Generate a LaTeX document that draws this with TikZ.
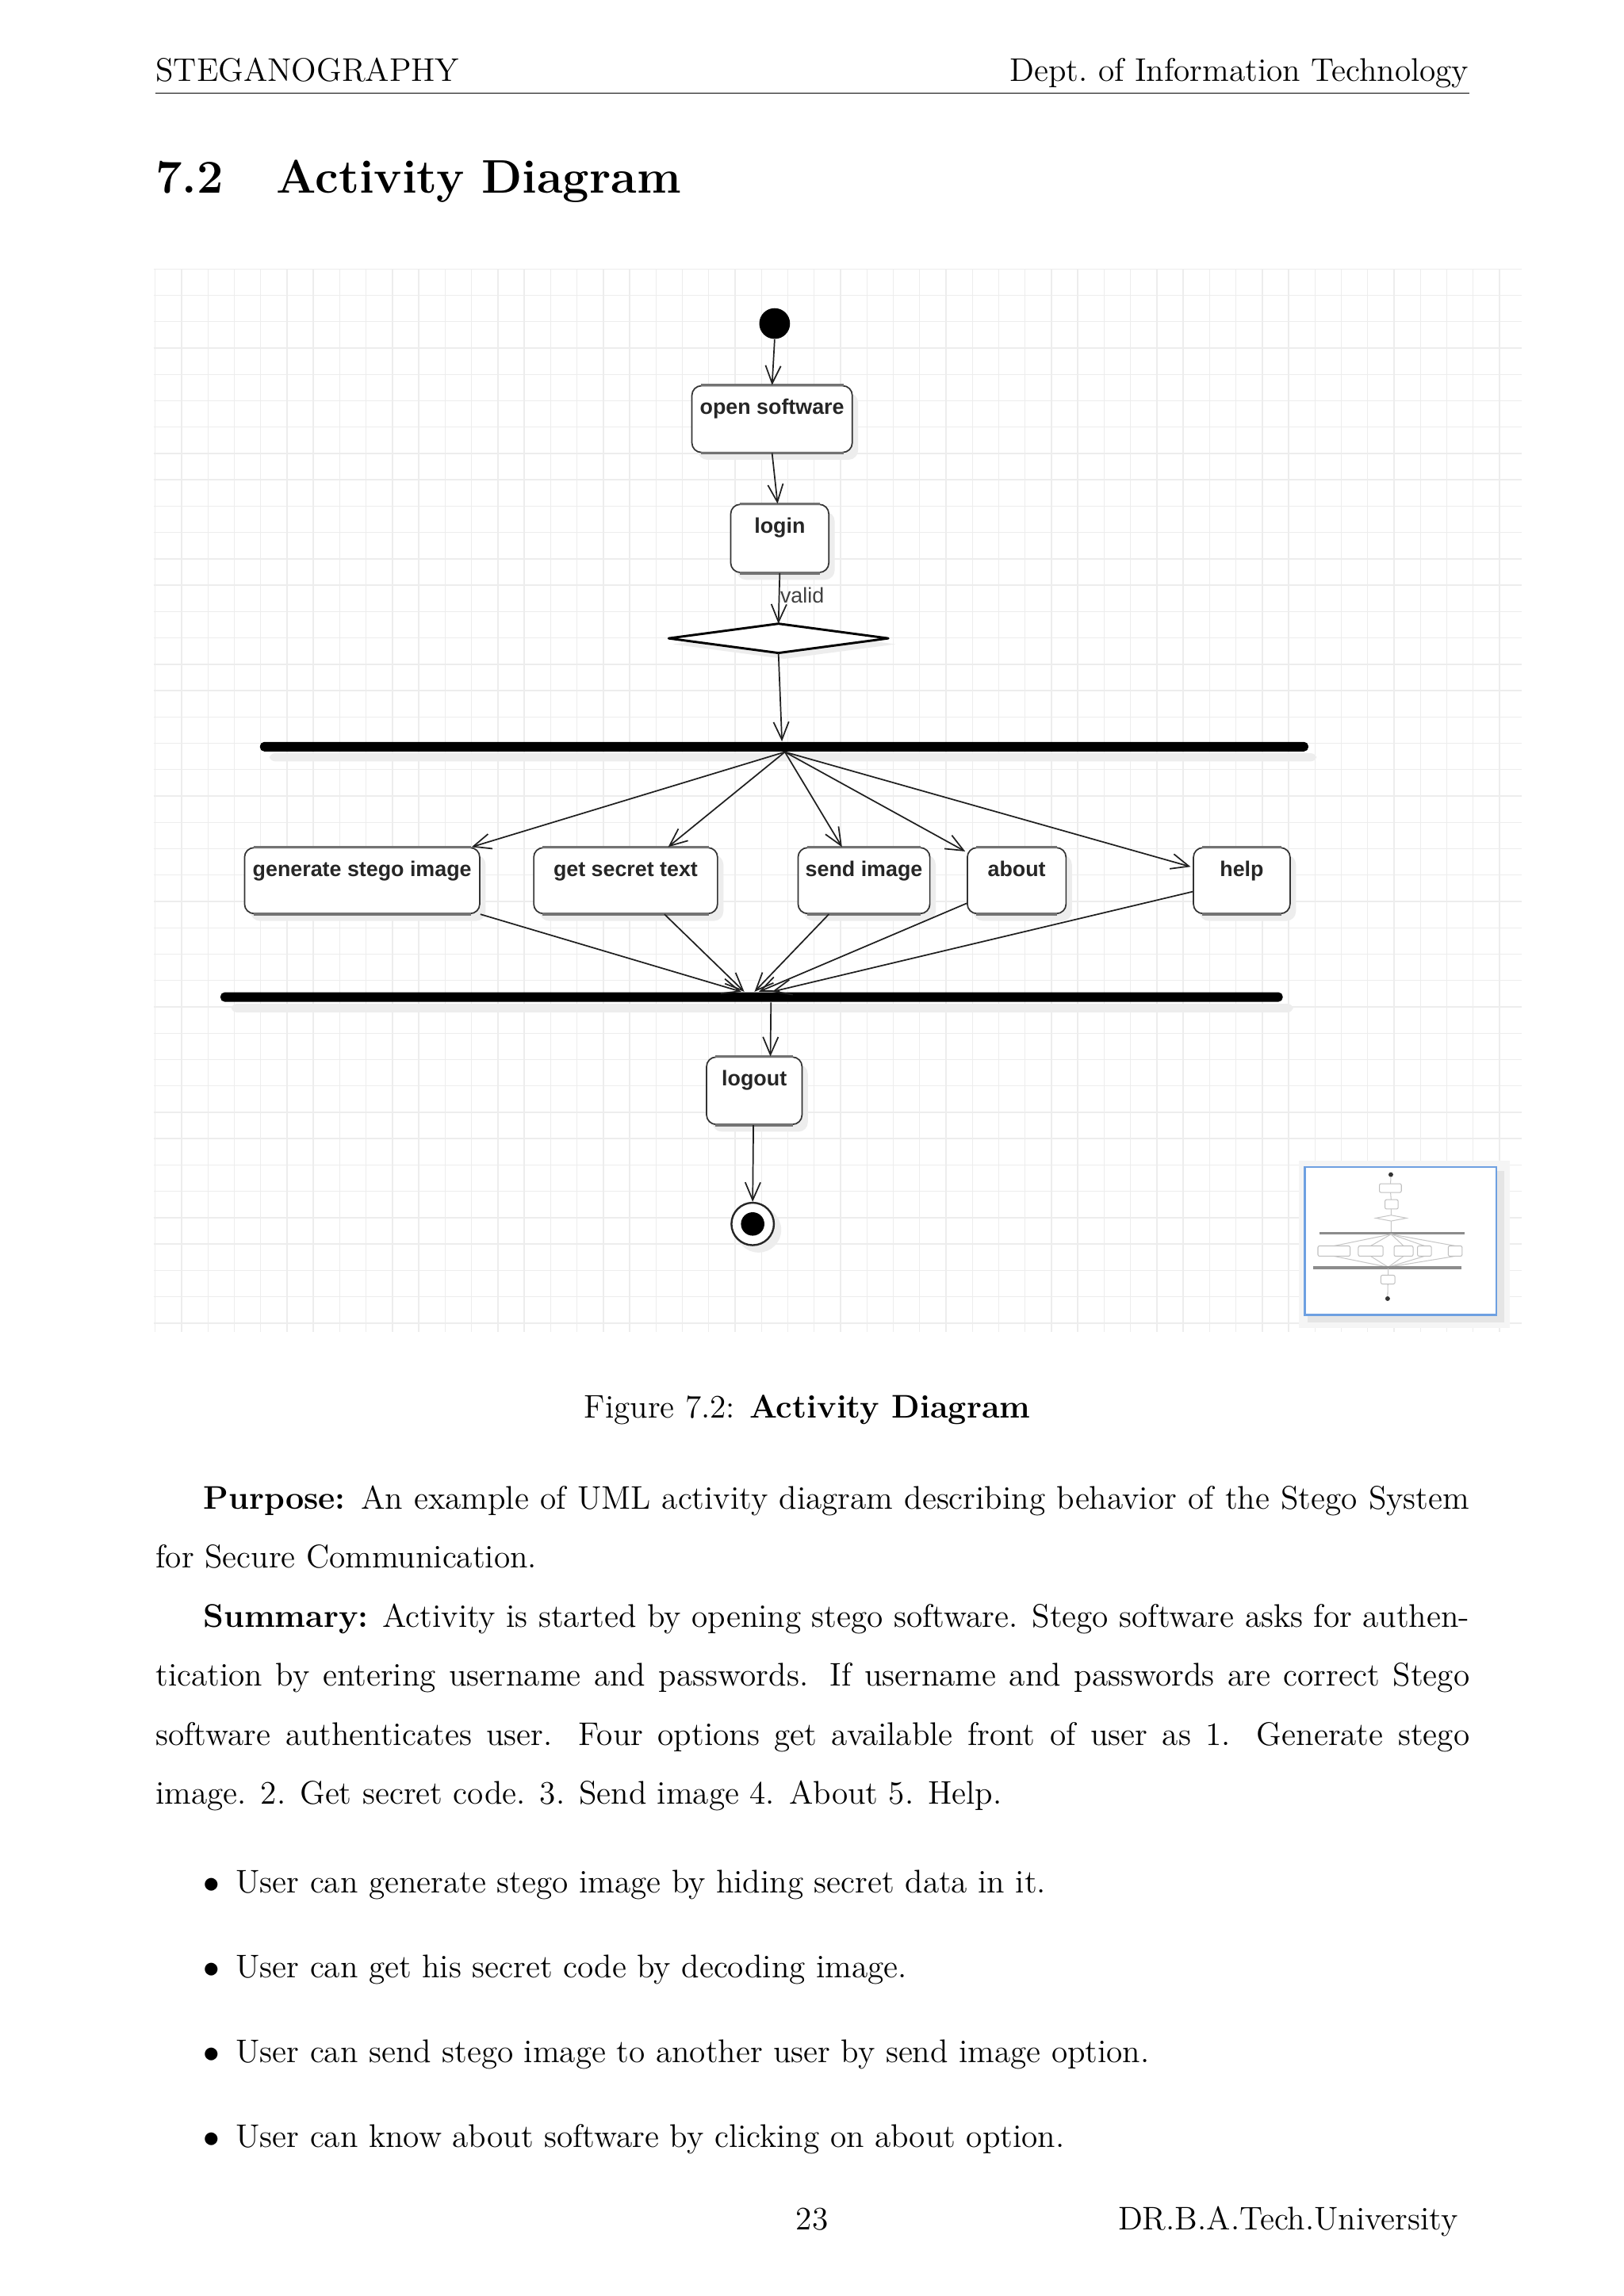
\documentclass[tikz,border=0pt]{standalone}
\usepackage{fontspec}
\newfontfamily\diafont{Liberation Sans}
\usetikzlibrary{arrows.meta,calc,shapes.geometric}
\newcommand\ux{0.53677pt}
\definecolor{mmblue}{RGB}{110,160,225}
\tikzset{
  arr/.style={draw=black!88, line width=0.5pt, -{Straight Barb[length=6.5pt,width=5.6pt,line width=0.5pt]}},
  abox/.style={draw=black!80, line width=0.5pt, fill=white, rounded corners=3.5pt, inner sep=0pt},
  shd/.style={fill=black!7, rounded corners=3.5pt},
  thickedge/.style={draw=black!55, line width=1pt},
  lbl/.style={font=\diafont\bfseries\fontsize{7.8}{9}\selectfont, text=black!85, inner sep=0pt},
  vlbl/.style={font=\diafont\fontsize{7.8}{9}\selectfont, text=black!75, inner sep=0pt},
  gridl/.style={draw=black!7, line width=0.4pt},
  bar/.style={fill=black, rounded corners=1.6pt, inner sep=0pt},
  body/.style={font=\fontsize{12}{21.63}\selectfont, inner sep=0pt},
  mini/.style={draw=black!22, line width=0.3pt},
  minib/.style={draw=black!25, fill=white, line width=0.3pt, rounded corners=0.6pt},
}
\newcommand\actbox[6]{%
  \fill[shd] ({#2+4},{#3+5}) rectangle ({#4+4},{#5+5});
  \node[abox, minimum width={(#4-#2)*\ux}, minimum height={(#5-#3)*\ux}] (#1) at ({(#2+#4)/2},{(#3+#5)/2}) {};
  \draw[thickedge] ([xshift=3.5pt]#1.north west) -- ([xshift=-3.5pt]#1.north east);
  \draw[thickedge] ([xshift=3.5pt]#1.south west) -- ([xshift=-3.5pt]#1.south east);
  \node[lbl, anchor=base] (#1-t) at ({(#2+#4)/2},{#3+19.5}) {#6};
}
\begin{document}
\begin{tikzpicture}[x=0.53677pt,y=-0.53677pt]
\fill[white] (0,0) rectangle (1109,1568.25);
\useasboundingbox (0,0) rectangle (1109,1568.25);

% ---------- header ----------
\node[body, anchor=base west] (hl) at (106,55.6) {STEGANOGRAPHY};
\node[body, anchor=base east] (hr) at (1003.4,55.6) {Dept.\ of Information Technology};
\draw[line width=0.4pt] (106,63.7) -- (1003.4,63.7);

% ---------- section ----------
\node[inner sep=0pt, anchor=base west, font=\fontsize{17.28}{22}\selectfont\bfseries] (secn) at (106,132) {7.2};
\node[inner sep=0pt, anchor=base west, font=\fontsize{17.28}{22}\selectfont\bfseries] (sect) at (188.5,132) {Activity Diagram};

% ---------- grid ----------
\foreach \gx in {106,124,...,1038} \draw[gridl] (\gx,184) -- (\gx,910);
\foreach \k in {0,...,40} \draw[gridl] (105,183.7+18*\k) -- (1039,183.7+18*\k);

% ---------- diagram ----------
\node[circle, fill=black, inner sep=0pt, minimum size=21*\ux] (init) at (529,221) {};

\actbox{os}{472.5}{263.5}{582}{309}{open software}
\actbox{login}{499}{344.5}{566}{391}{login}

% decision diamond
\fill[black!7] (535.6,430) -- (611.6,440) -- (535.6,450) -- (459.6,440) -- cycle;
\node[diamond, draw=black, fill=white, line width=0.85pt, line join=round, inner sep=0pt, outer sep=0pt, minimum width=150*\ux, minimum height=20*\ux] (dia) at (531.6,436) {};

% fork bar
\fill[black!7, rounded corners=2pt] (184,514.5) rectangle (899,520);
\node[bar, minimum width=716*\ux, minimum height=6.5*\ux] (fork) at (535.5,510) {};

\actbox{gen}{167}{579}{327.6}{624}{generate stego image}
\actbox{get}{364.5}{579}{490}{624}{get secret text}
\actbox{send}{545}{579}{635}{624}{send image}
\actbox{about}{660.6}{579}{728}{624}{about}
\actbox{help}{815}{579}{881}{624}{help}

% join bar
\fill[black!7, rounded corners=2pt] (158,685.6) rectangle (883,691.5);
\node[bar, minimum width=725.5*\ux, minimum height=6.5*\ux] (join) at (513.25,681) {};

\actbox{logout}{482.5}{722}{547.7}{768}{logout}

\fill[black!7] (518,840) circle (15.5);
\node[circle, draw=black!85, fill=white, line width=0.7pt, inner sep=0pt, minimum size=29*\ux] (fin) at (514,836) {};
\node[circle, fill=black, inner sep=0pt, minimum size=16*\ux] (finin) at (fin.center) {};

% connectors
\draw[arr] (init.south) -- (os.north);
\draw[arr] (os.south) -- ($(login.north)+(-1.5,0)$);
\draw[arr] (login.south) -- (dia.north);
\node[vlbl, anchor=west] (valid) at (532.5,406.5) {valid};
\draw[arr] (dia.south) -- ($(fork.north)+(-1.5,0)$);

\coordinate (fo) at ($(fork.south)+(0.5,0)$);
\draw[arr] (fo) -- ($(gen.north east)+(-6,0)$);
\draw[arr] (fo) -- ($(get.north)+(29,0)$);
\draw[arr] (fo) -- ($(send.north)+(-15,0)$);
\draw[arr] (fo) -- ($(about.north west)+(-1,3)$);
\draw[arr] (fo) -- ($(help.west)+(-1.5,-9.5)$);

\draw[arr] (gen.south east) -- ($(join.north)+(-7,0)$);
\draw[arr] ($(get.south)+(26.5,0)$) -- ($(join.north)+(-5,0)$);
\draw[arr] ($(send.south)+(-24,0)$) -- ($(join.north)+(2,0)$);
\draw[arr] ($(about.west)+(0,15.5)$) -- ($(join.north)+(5,0)$);
\draw[arr] ($(help.west)+(0,7.5)$) -- ($(join.north)+(14,0)$);

\draw[arr] ($(join.south)+(13.25,0)$) -- ($(logout.north)+(11,0)$);
\draw[arr] ($(logout.south)+(-0.6,0)$) -- (fin.north);

% ---------- overview (minimap) ----------
\fill[black!4] (887,793) rectangle (1031,907);
\fill[black!10] (893,800) rectangle (1027,903);
\filldraw[fill=white, draw=mmblue, line width=0.7pt] (891,797) rectangle (1022,898);
\fill[black!80] (949.8,802.3) circle (1.6);
\draw[minib] (942,808.5) rectangle (957,814.5);
\draw[minib] (945.8,819.4) rectangle (954.8,825.8);
\draw[mini] (939.5,832) -- (950,830) -- (960.6,832) -- (950,834) -- cycle;
\draw[mini] (949.8,804) -- (949.6,808.5) (949.6,814.5) -- (950,819.4) (950,825.8) -- (950,830) (950,834) -- (950,841.5);
\draw[black!45, line width=1.1pt] (901,842.3) -- (1000,842.3);
\foreach \bx in {911,936,958.5,972.8,993.8} \draw[mini] (950,843) -- (\bx,851);
\foreach \bx in {911,936,958.5,972.8,993.8} \draw[mini] (\bx,858) -- (948,865.5);
\draw[minib] (900,851) rectangle (922,858);
\draw[minib] (927.6,851) rectangle (944.5,858);
\draw[minib] (952,851) rectangle (965,858);
\draw[minib] (968,851) rectangle (977.5,858);
\draw[minib] (989,851) rectangle (998.5,858);
\draw[black!45, line width=1.1pt] (897,866) -- (998,866);
\draw[mini] (948,866.5) -- (948,871) (947.8,877) -- (947.6,885.5);
\draw[minib] (943,871) rectangle (952.6,877);
\fill[black!80] (947.6,887) circle (1.6);

% ---------- caption ----------
\node[body, anchor=base west] (cap) at (398.6,968.4) {Figure 7.2: \textbf{Activity Diagram}};

% ---------- body text ----------
\node[body, anchor=base west] (para) at (106,1030.7) {\parbox[t]{481.6pt}{%
\hspace*{17.5pt}\textbf{Purpose:} An example of UML activity diagram describing behavior of the Stego System\linebreak
for Secure Communication.\par
\hspace*{17.5pt}\textbf{Summary:} Activity is started by opening stego software. Stego software asks for authen-\linebreak
tication by entering username and passwords. If username and passwords are correct Stego\linebreak
software authenticates user. Four options get available front of user as 1. Generate stego\linebreak
image. 2. Get secret code. 3. Send image 4. About 5. Help.}};

\node[body, anchor=base west] (b1) at (138.6,1292.9) {$\bullet$};
\node[body, anchor=base west] (t1) at (160.8,1292.9) {User can generate stego image by hiding secret data in it.};
\node[body, anchor=base west] (b2) at (138.6,1350.9) {$\bullet$};
\node[body, anchor=base west] (t2) at (160.8,1350.9) {User can get his secret code by decoding image.};
\node[body, anchor=base west] (b3) at (138.6,1408.9) {$\bullet$};
\node[body, anchor=base west] (t3) at (160.8,1408.9) {User can send stego image to another user by send image option.};
\node[body, anchor=base west] (b4) at (138.6,1466.9) {$\bullet$};
\node[body, anchor=base west] (t4) at (160.8,1466.9) {User can know about software by clicking on about option.};

% ---------- footer ----------
\node[body, anchor=base] (pg) at (554.6,1523) {23};
\node[body, anchor=base east] (uni) at (996,1523) {DR.B.A.Tech.University};
\end{tikzpicture}
\end{document}
